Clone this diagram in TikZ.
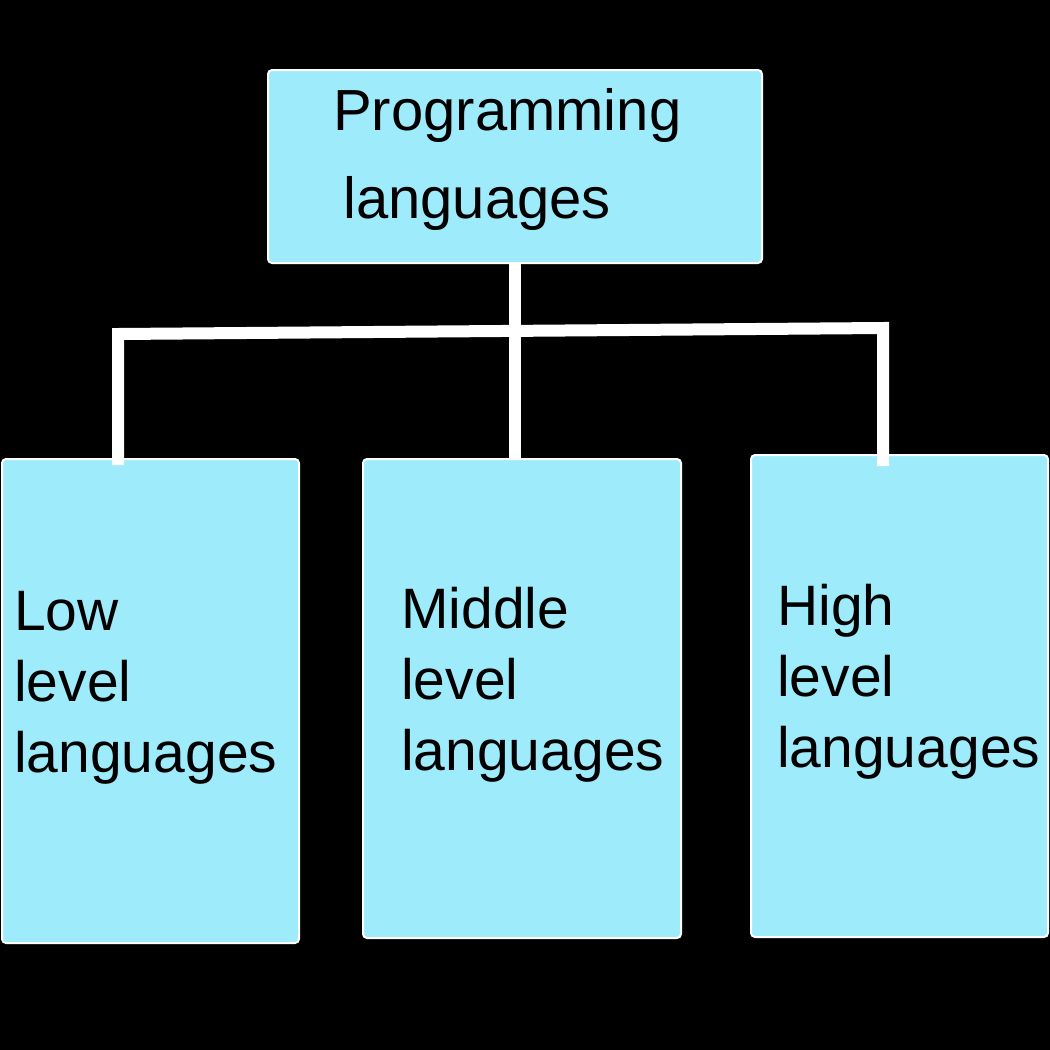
\documentclass[tikz,border=0pt]{standalone}
\usepackage{fontspec}
\setmainfont{Liberation Sans}
\definecolor{boxc}{HTML}{9EEBFC}
\begin{document}
\begin{tikzpicture}[x=1pt,y=-1pt,
  box/.style={draw=white,line width=2pt,fill=boxc,rounded corners=4pt},
  lbl/.style={anchor=base west,inner sep=0pt,font=\fontsize{57}{72}\selectfont},
  wire/.style={white,line width=12pt}]
\fill[black] (0,0) rectangle (1050,1050);
\useasboundingbox (0,0) rectangle (1050,1050);
\draw[box] (268,70) rectangle (762,263);
\coordinate (top) at (515,263);
\draw[box] (2,459) rectangle (299,943);
\draw[box] (363,459) rectangle (681,938);
\draw[box] (751,455) rectangle (1048,937);
\coordinate (jl) at (118,334);
\coordinate (jm) at (515,331);
\coordinate (jr) at (883,328);
\coordinate (bl) at (118,459);
\coordinate (bm) at (515,459);
\coordinate (br) at (883,460);
\draw[wire] (top) -- (jm);
\draw[wire,line cap=rect] (bl) -- (jl) -- (jr) -- (br);
\draw[wire] (jm) -- (bm);
\node[lbl,font=\fontsize{58}{72}\selectfont] (t1) at (333,130) {Programming};
\node[lbl,font=\fontsize{58}{72}\selectfont] (t2) at (343,218) {languages};
\node[lbl] (l1) at (14,630) {Low};
\node[lbl] (l2) at (14,701) {level};
\node[lbl] (l3) at (14,772) {languages};
\node[lbl] (m1) at (401,628) {Middle};
\node[lbl] (m2) at (401,699) {level};
\node[lbl] (m3) at (401,770) {languages};
\node[lbl] (h1) at (777,625) {High};
\node[lbl] (h2) at (777,696) {level};
\node[lbl] (h3) at (777,767) {languages};
\end{tikzpicture}
\end{document}
